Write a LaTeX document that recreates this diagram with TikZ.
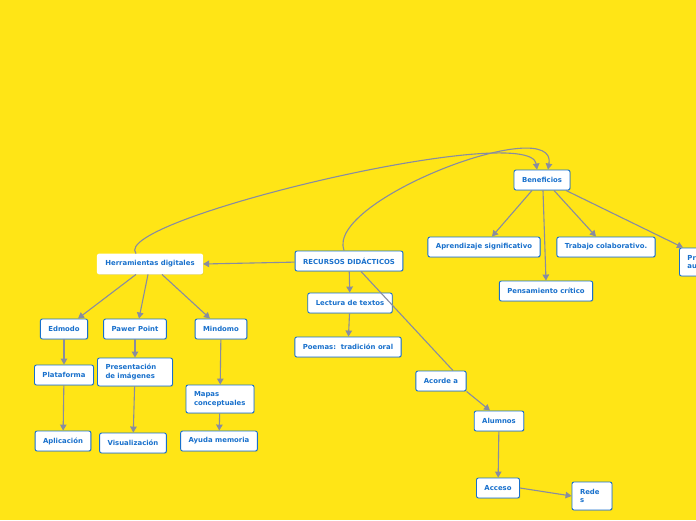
\documentclass[tikz,border=0pt]{standalone}
\usepackage{fontspec}
\setmainfont{DejaVu Sans}
\usetikzlibrary{arrows.meta,positioning,shadows}
\definecolor{mapyellow}{RGB}{255, 229, 22}
\definecolor{mapblue}{RGB}{24, 112, 204}
\definecolor{mapline}{RGB}{136, 140, 160}

\begin{document}
\begin{tikzpicture}[x=1pt, y=-1pt, >={Triangle[length=6pt,width=6.5pt]},
    concept/.style={draw=mapblue, line width=0.9pt, fill=white, rounded corners=2pt,
      text=mapblue, font=\fontsize{6.9}{8.4}\selectfont\bfseries,
      inner xsep=8pt, inner ysep=3pt, minimum height=20pt,
      drop shadow={opacity=0.25, shadow xshift=0.8pt, shadow yshift=-0.8pt}},
    twoline/.style={concept, align=left, minimum height=28pt},
    link/.style={draw=mapline, line width=1.1pt},
    every edge/.append style={link}]
    % background
    \fill[mapyellow] (0,0) rectangle (696,520);
    \useasboundingbox (0,0) rectangle (696,520);

    \node[concept] (rec) at (349,261) {RECURSOS DIDÁCTICOS};
    \node[concept, draw=white] (herr) at (150,264) {Herramientas digitales};
    \node[concept] (ben) at (542,180) {Beneficios};

    \node[concept] (aprend) at (484,247) {Aprendizaje significativo};
    \node[concept] (trabajo) at (606,247) {Trabajo colaborativo.};
    \node[concept] (pens) at (546,291) {Pensamiento crítico};
    \node[twoline, anchor=west, text width=44pt] (pr) at (679,262) {Pr\\au};

    \node[concept] (lectura) at (350,303) {Lectura de textos};
    \node[concept] (poemas) at (348,347) {Poemas:\ \ tradición oral};
    \node[concept] (acorde) at (441,381) {Acorde a};
    \node[concept] (alumnos) at (499,421) {Alumnos};
    \node[concept] (acceso) at (498,488) {Acceso};
    \node[twoline, text width=24pt] (redes) at (592,496) {Rede\\s};

    \node[concept] (edmodo) at (64,329) {Edmodo};
    \node[concept] (plat) at (64,375) {Plataforma};
    \node[concept] (aplic) at (63,441) {Aplicación};
    \node[concept] (pawer) at (135,329) {Pawer Point};
    \node[twoline, text width=59pt] (present) at (135,372) {Presentación\\de imágenes};
    \node[concept] (visual) at (133,443) {Visualización};
    \node[concept] (mindomo) at (221,329) {Mindomo};
    \node[twoline, text width=52pt] (mapas) at (220,399) {Mapas\\conceptuales};
    \node[concept] (ayuda) at (219,441) {Ayuda memoria};

    \path[->] (rec) edge (herr.east);
    \path[->] (rec) edge (lectura);
    \path[->] (lectura) edge (poemas);
    \path ([xshift=12pt]rec.south) edge ([xshift=12pt]acorde.north);
    \path[->] (acorde.south east) edge ([xshift=-9pt]alumnos.north);
    \path[->] (alumnos) edge (acceso);
    \path[->] (acceso.east) edge (redes.west);

    \path[->] ([xshift=-14pt]herr.south) edge ([xshift=14pt]edmodo.north);
    \path[->] ([xshift=-2pt]herr.south) edge ([xshift=4pt]pawer.north);
    \path[->] ([xshift=12pt]herr.south) edge ([xshift=-11pt]mindomo.north);
    \path[->] (edmodo) edge (plat);
    \path[->] (plat) edge (aplic);
    \path[->] (pawer) edge (present);
    \path[->] (present) edge (visual);
    \path[->] (mindomo) edge (mapas);
    \path[->] (mapas) edge (ayuda);

    \path[->] ([xshift=-10pt]ben.south) edge ([xshift=8pt]aprend.north);
    \path[->] ([xshift=1pt]ben.south) edge (pens.north);
    \path[->] ([xshift=12pt]ben.south) edge ([xshift=-10pt]trabajo.north);
    \path[->] ([xshift=24pt]ben.south) edge ([xshift=4pt]pr.north west);

    % curved links up to Beneficios
    \draw[->, link] ([xshift=-14pt]herr.north) .. controls (108,220) and (530,120) .. ([xshift=-5pt]ben.north);
    \draw[->, link] ([xshift=-5pt]rec.north) .. controls (325,200) and (558,112) .. ([xshift=6pt]ben.north);
\end{tikzpicture}
\end{document}
